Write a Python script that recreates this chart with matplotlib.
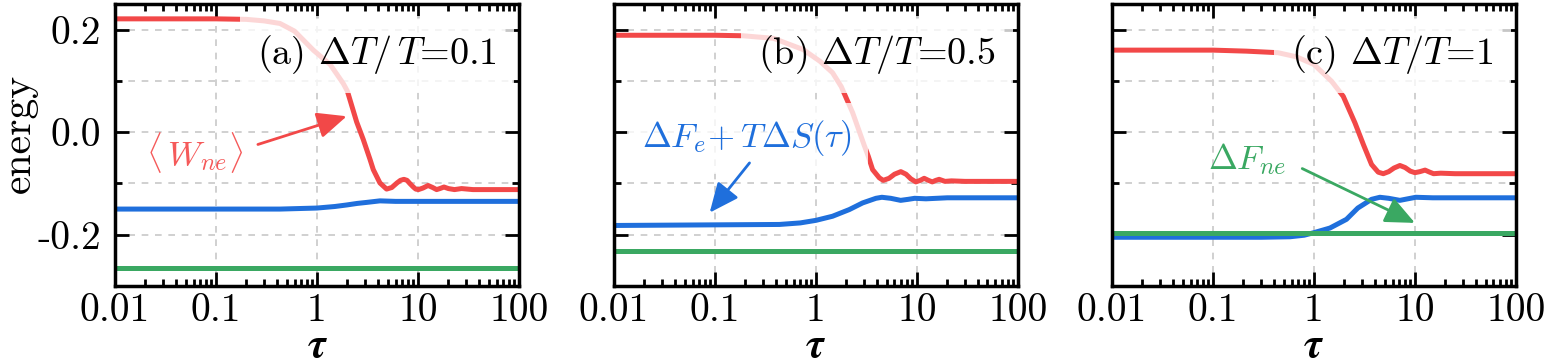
import matplotlib
matplotlib.use('Agg')
import matplotlib.pyplot as plt
from matplotlib.ticker import LogLocator, NullFormatter, FixedLocator

plt.rcParams['font.family'] = ['cmr10', 'DejaVu Serif']
plt.rcParams['mathtext.fontset'] = 'cm'
plt.rcParams['axes.unicode_minus'] = False

# ---- data ----
# panel (a)  dT/T = 0.1
tau_a_red = [0.01, 0.1, 0.2, 0.3, 0.43, 0.6, 0.92, 1.35, 1.82, 2.0, 2.47, 2.87, 3.35, 3.61,
             4.2, 4.89, 5.5, 6.2, 6.7, 7.26, 7.8, 8.3, 9.0, 9.5, 10.1, 11.2, 12.6, 14.0,
             15.3, 16.5, 18.1, 20, 23, 27, 35, 50, 70, 100]
red_a = [0.221, 0.221, 0.220, 0.217, 0.212, 0.197, 0.160, 0.132, 0.095, 0.080, 0.020, -0.014,
         -0.053, -0.073, -0.099, -0.111, -0.108, -0.099, -0.094, -0.092, -0.094, -0.100, -0.107,
         -0.111, -0.112, -0.109, -0.104, -0.108, -0.112, -0.110, -0.107, -0.110, -0.112, -0.110,
         -0.112, -0.112, -0.112, -0.112]
tau_a_blue = [0.01, 0.43, 1.0, 1.5, 1.97, 2.5, 3.1, 4.2, 6, 10, 100]
blue_a = [-0.150, -0.150, -0.148, -0.145, -0.142, -0.139, -0.137, -0.134, -0.135, -0.135, -0.135]
tau_a_green = [0.01, 100]
green_a = [-0.265, -0.265]

# panel (b)  dT/T = 0.5
tau_b_red = [0.01, 0.1, 0.19, 0.38, 0.75, 1.1, 1.46, 1.78, 2.31, 3.0, 3.3, 3.64, 4.24, 4.64,
             5.3, 6.0, 6.93, 7.8, 8.7, 9.76, 10.8, 11.8, 13.0, 14.2, 15.4, 16.6, 19, 22, 30,
             50, 100]
red_b = [0.189, 0.189, 0.188, 0.183, 0.161, 0.138, 0.116, 0.089, 0.038, -0.025, -0.047, -0.073,
         -0.089, -0.094, -0.090, -0.082, -0.077, -0.082, -0.091, -0.097, -0.094, -0.090, -0.094,
         -0.097, -0.094, -0.092, -0.096, -0.095, -0.096, -0.096, -0.096]
tau_b_blue = [0.01, 0.435, 0.7, 1.0, 1.46, 2.14, 2.9, 3.93, 4.5, 5.5, 6.9, 8.2, 9.5, 12.3, 20, 100]
blue_b = [-0.182, -0.180, -0.177, -0.172, -0.164, -0.151, -0.138, -0.129, -0.127, -0.129, -0.133,
          -0.131, -0.129, -0.130, -0.128, -0.128]
tau_b_green = [0.01, 100]
green_b = [-0.231, -0.231]

# panel (c)  dT/T = 1
tau_c_red = [0.01, 0.1, 0.215, 0.44, 0.67, 1.0, 1.5, 1.95, 2.55, 3.1, 3.72, 4.33, 4.86, 5.5,
             6.2, 7.1, 8.0, 9.0, 10.0, 11.2, 12.6, 14.0, 15.3, 18, 25, 40, 100]
red_c = [0.160, 0.160, 0.158, 0.155, 0.147, 0.132, 0.099, 0.070, 0.018, -0.025, -0.063, -0.078,
         -0.081, -0.077, -0.070, -0.065, -0.069, -0.076, -0.079, -0.077, -0.074, -0.078, -0.081,
         -0.080, -0.081, -0.081, -0.081]
tau_c_blue = [0.01, 0.3, 0.58, 0.8, 1.0, 1.44, 2.1, 2.72, 3.72, 4.5, 5.5, 7.1, 8.5, 10.2, 15, 100]
blue_c = [-0.205, -0.205, -0.204, -0.201, -0.196, -0.187, -0.170, -0.148, -0.131, -0.127, -0.129,
          -0.133, -0.130, -0.127, -0.128, -0.128]
tau_c_green = [0.01, 100]
green_c = [-0.196, -0.196]

panel_titles = [r'(a) $\Delta T/\,T$=0.1', r'(b) $\Delta T/T$=0.5', r'(c) $\Delta T/T$=1']
xtick_vals = [0.01, 0.1, 1, 10, 100]
xtick_labels = ['0.01', '0.1', '1', '10', '100']
ytick_vals = [-0.2, 0.0, 0.2]
ytick_labels = ['-0.2', '0.0', '0.2']

RED = '#f24848'
BLUE = '#1f6fdc'
GREEN = '#3aa862'

fig = plt.figure(figsize=(15.5, 3.62), dpi=100)
lefts = [0.0742, 0.3961, 0.7174]
panels = [
    (tau_a_red, red_a, tau_a_blue, blue_a, tau_a_green, green_a),
    (tau_b_red, red_b, tau_b_blue, blue_b, tau_b_green, green_b),
    (tau_c_red, red_c, tau_c_blue, blue_c, tau_c_green, green_c),
]
box = dict(facecolor='white', alpha=0.78, edgecolor='none', boxstyle='square,pad=0.45')

axes = []
for i, (tr, r, tb, b, tg, g) in enumerate(panels):
    ax = fig.add_axes([lefts[i], 0.21, 0.2606, 0.779])
    axes.append(ax)
    ax.plot(tb, b, color=BLUE, lw=3.6, zorder=2)
    ax.plot(tg, g, color=GREEN, lw=3.6, zorder=2)
    ax.plot(tr, r, color=RED, lw=3.6, zorder=2)

    ax.set_xscale('log')
    ax.set_xlim(0.01, 100)
    ax.set_ylim(-0.3, 0.25)
    ax.set_xticks(xtick_vals)
    ax.set_xticklabels(xtick_labels)
    ax.xaxis.set_minor_locator(LogLocator(base=10, subs=range(2, 10), numticks=20))
    ax.xaxis.set_minor_formatter(NullFormatter())
    ax.set_yticks(ytick_vals)
    ax.yaxis.set_minor_locator(FixedLocator([-0.1, 0.1]))
    if i == 0:
        ax.set_yticklabels(ytick_labels)
        ax.set_ylabel('energy', fontsize=30)
        ax.yaxis.set_label_coords(-0.19, 0.54)
    else:
        ax.set_yticklabels([])

    ax.set_axisbelow(True)
    gkw = dict(ls=(0, (4, 4)), color='#c8c8c8', lw=1.2)
    ax.grid(True, which='major', axis='x', **gkw)
    ax.grid(True, which='both', axis='y', **gkw)

    ax.tick_params(which='both', direction='in', top=True, right=True, width=2, labelsize=28.5)
    ax.tick_params(which='major', length=10)
    ax.tick_params(which='minor', length=5)
    ax.tick_params(axis='x', pad=5)
    ax.tick_params(axis='y', pad=10)
    for s in ax.spines.values():
        s.set_linewidth(2.5)

    ax.set_xlabel(r'$\boldsymbol{\tau}$', fontsize=30, labelpad=-1)
    ax.text(0.945, 0.82, panel_titles[i], transform=ax.transAxes, ha='right', va='center',
            fontsize=27.5, bbox=box, zorder=3)

arrow = dict(arrowstyle='-|>,head_length=0.9,head_width=0.4', lw=2, shrinkA=0, shrinkB=0,
             mutation_scale=20)

# annotations
ax = axes[0]
ax.text(0.062, -0.04, r'$\langle\, W_{ne} \rangle$', color='#f55a5a', fontsize=25,
        ha='center', va='center', zorder=3)
ax.annotate('', xy=(1.97, 0.031), xytext=(0.26, -0.024), arrowprops=dict(color=RED, **arrow),
            zorder=4)

ax = axes[1]
ax.text(0.21, -0.012, r'$\Delta F_e\!+T\Delta S(\tau)$', color=BLUE, fontsize=25,
        ha='center', va='center', bbox=box, zorder=3)
ax.annotate('', xy=(0.0887, -0.157), xytext=(0.22, -0.060), arrowprops=dict(color=BLUE, **arrow),
            zorder=4)

ax = axes[2]
ax.text(0.216, -0.052, r'$\Delta F_{ne}$', color=GREEN, fontsize=25,
        ha='center', va='center', zorder=3)
ax.annotate('', xy=(10.0, -0.177), xytext=(0.766, -0.071), arrowprops=dict(color=GREEN, **arrow),
            zorder=4)

fig.savefig('out.png', dpi=100)
